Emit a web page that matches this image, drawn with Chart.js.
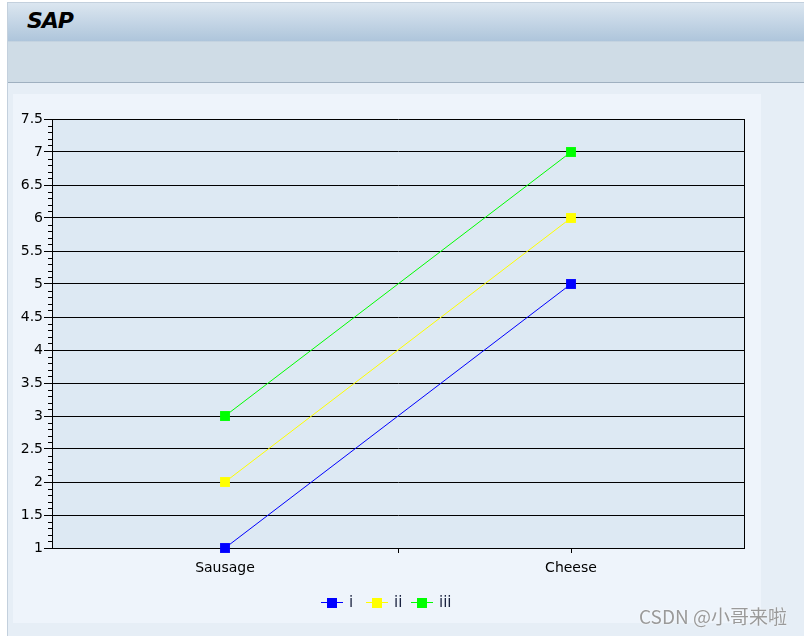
<!DOCTYPE html>
<html>
<head>
<meta charset="utf-8">
<script src="https://cdn.jsdelivr.net/npm/chart.js@4.4.0/dist/chart.umd.min.js"></script>
<style>
body { margin:0; width:804px; height:636px; background:#fff; font-family:"DejaVu Sans", sans-serif; overflow:hidden; position:relative; }
#frame { position:absolute; left:7px; top:2px; width:797px; height:634px; background:#e6eef6; border-left:1px solid #c3d0dd; border-top:1px solid #c3d0dd; }
#title { position:absolute; left:0; top:0; width:797px; height:38px; background:linear-gradient(#dbe6f0, #aec5db); border-bottom:1px solid #c4d3e0; }
#title span { position:absolute; left:19px; top:5px; font:italic bold 22px "DejaVu Sans", sans-serif; color:#000; letter-spacing:-1px; }
#toolbar { position:absolute; left:0; top:39px; width:797px; height:40px; background:#cfdce6; border-bottom:1px solid #9fb0c0; }
#panel { position:absolute; left:5px; top:91px; width:748px; height:529px; background:#eef4fb; }
#wm { position:absolute; left:639px; top:602px; font:19px "Noto Sans CJK SC", sans-serif; color:#9a9a9a; text-shadow:0 0 2px #fff; }
</style>
</head>
<body>
<div id="frame">
  <div id="title"><span>SAP</span></div>
  <div id="toolbar"></div>
  <div id="panel"><canvas id="myChart" width="748" height="529"></canvas></div>
</div>
<div id="wm">CSDN @小哥来啦</div>
<script>
var categories = ["Sausage", "Cheese"];
var seriesNames = ["i", "ii", "iii"];
var seriesI = [1, 5];
var seriesII = [2, 6];
var seriesIII = [3, 7];
var seriesColors = ["#0000ff", "#ffff00", "#00ff00"];

// draws the minor ticks, x tick marks, plot bg and the legend
var sapPlugin = {
    id: "sap",
    beforeDraw: function(chart){
        var a = chart.chartArea, ctx = chart.ctx;
        ctx.save();
        ctx.fillStyle = "#dde9f3";
        ctx.fillRect(a.left, a.top, a.right - a.left, a.bottom - a.top);
        ctx.restore();
    },
    afterDraw: function(chart){
        var ctx = chart.ctx, a = chart.chartArea;
        var y = chart.scales.y, x = chart.scales.x;
        ctx.save();
        ctx.strokeStyle = "#000";
        ctx.lineWidth = 1;
        ctx.beginPath();
        for (var v = 10; v <= 75; v++) {
            if (v % 5 == 0) continue;
            var py = Math.round(y.getPixelForValue(v / 10)) + 0.5;
            ctx.moveTo(a.left - 4, py);
            ctx.lineTo(a.left, py);
        }
        // right border
        ctx.moveTo(Math.round(a.right) + 0.5, a.top);
        ctx.lineTo(Math.round(a.right) + 0.5, a.bottom);
        // x tick marks
        var p0 = x.getPixelForValue(0), p1 = x.getPixelForValue(1);
        [ (p0 + p1) / 2, p1 ].forEach(function(px){
            px = Math.round(px) + 0.5;
            ctx.moveTo(px, a.bottom);
            ctx.lineTo(px, a.bottom + 5);
        });
        ctx.stroke();

        // legend
        var lx = 308, ly = 508;
        ctx.font = "15px 'DejaVu Sans'";
        ctx.textBaseline = "middle";
        chart.data.datasets.forEach(function(ds){
            ctx.strokeStyle = ds.borderColor;
            ctx.beginPath();
            ctx.moveTo(lx, ly + 0.5);
            ctx.lineTo(lx + 22, ly + 0.5);
            ctx.stroke();
            ctx.fillStyle = ds.borderColor;
            ctx.fillRect(lx + 6, ly - 4, 10, 10);
            ctx.fillStyle = "#1a2340";
            ctx.fillText(ds.label, lx + 28, ly + 1);
            lx += 45;
        });
        ctx.restore();
    }
};

function makeSet(name, data, color){
    return {
        label: name,
        data: data,
        borderColor: color,
        backgroundColor: color,
        borderWidth: 1,
        pointStyle: "rect",
        pointRadius: 7,
        pointHoverRadius: 7,
        pointBorderWidth: 0,
        tension: 0,
        clip: false
    };
}

new Chart("myChart", {
    type: "line",
    data: {
        labels: categories,
        datasets: [
            makeSet(seriesNames[0], seriesI, seriesColors[0]),
            makeSet(seriesNames[1], seriesII, seriesColors[1]),
            makeSet(seriesNames[2], seriesIII, seriesColors[2])
        ]
    },
    options: {
        responsive: false,
        animation: false,
        layout: { padding: { top: 25, right: 17, left: 0, bottom: 0 } },
        plugins: { legend: { display: false }, tooltip: { enabled: false } },
        scales: {
            x: {
                offset: true,
                grid: { display: false },
                border: { color: "#000", width: 1 },
                ticks: { color: "#000", font: { family: "DejaVu Sans", size: 14 }, padding: 4 },
                afterFit: function(s){ s.height = 75; }
            },
            y: {
                min: 1, max: 7.5,
                ticks: {
                    stepSize: 0.5, color: "#000", font: { family: "DejaVu Sans", size: 14 }, padding: 1,
                    callback: function(v){ return String(v); }
                },
                grid: { color: "#000", tickLength: 8, lineWidth: 1 },
                border: { color: "#000", width: 1 },
                afterFit: function(s){ s.width = 39; }
            }
        }
    },
    plugins: [sapPlugin]
});
</script>
</body>
</html>
